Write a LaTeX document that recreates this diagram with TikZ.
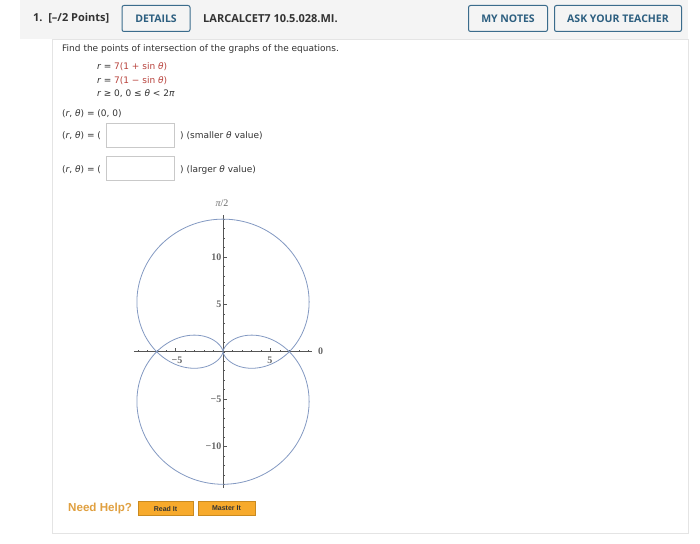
\documentclass[tikz,border=0pt]{standalone}
\usepackage{fontspec}
\setmainfont{DejaVu Sans}
\newfontfamily\hdfont{Open Sans}
\newfontfamily\plotfont{Liberation Serif}
\newfontfamily\helpfont{Liberation Sans}
\definecolor{hdrbg}{HTML}{F4F4F4}
\definecolor{panelline}{HTML}{E4E4E4}
\definecolor{btnline}{HTML}{3B6C8C}
\definecolor{btntext}{HTML}{2D5F80}
\definecolor{bodytext}{HTML}{333333}
\definecolor{redtext}{HTML}{B8423C}
\definecolor{boxline}{HTML}{C9C9C9}
\definecolor{curve}{HTML}{8399C2}
\definecolor{axis}{HTML}{555555}
\definecolor{helpor}{HTML}{E0A040}
\definecolor{btnor}{HTML}{F7AA2C}
\definecolor{btnorline}{HTML}{C98A20}
\tikzset{
  hdtext/.style={font=\hdfont\bfseries\fontsize{11}{13}\selectfont, text=bodytext, inner sep=0pt},
  hdbtn/.style={draw=btnline, line width=1pt, rounded corners=2pt, text=btntext, font=\hdfont\bfseries\fontsize{10.5}{12}\selectfont, inner sep=0pt},
  body/.style={font=\fontsize{9}{11}\selectfont, text=bodytext, inner sep=0pt, anchor=west},
  ansbox/.style={draw=boxline, line width=0.6pt},
  plotlab/.style={font=\plotfont\bfseries\fontsize{10}{12}\selectfont, text=axis!90, inner sep=0pt},
  helpbtn/.style={draw=btnorline, fill=btnor, line width=0.6pt, font=\helpfont\bfseries\fontsize{7}{8}\selectfont, text=black!80, inner sep=0pt}
}
\begin{document}
\begin{tikzpicture}[x=1pt,y=-1pt]
\useasboundingbox (0,0) rectangle (700,543);
\fill[white] (0,0) rectangle (700,543);
% header
\fill[hdrbg] (20,0) rectangle (688,39);
\draw[panelline, line width=0.8pt] (52,39) rectangle (688,533);
\node[hdtext, anchor=west] (qnum) at (33,18.5) {1.\ \ [–/2 Points]};
\node[hdbtn, minimum width=68pt, minimum height=26pt] (details) at (156,18.5) {DETAILS};
\node[hdtext, anchor=west] (code) at (203,18.5) {LARCALCET7 10.5.028.MI.};
\node[hdbtn, minimum width=79pt, minimum height=26pt] (notes) at (508,18.5) {MY NOTES};
\node[hdbtn, minimum width=127pt, minimum height=26pt] (ask) at (618,18.5) {ASK YOUR TEACHER};
% problem text
\node[body] (find) at (62,49) {Find the points of intersection of the graphs of the equations.};
\node[body] (eq1) at (97,67) {\itshape r\upshape\ = \textcolor{redtext}{7(1 + sin \itshape θ\upshape)}};
\node[body] (eq2) at (97,80.5) {\itshape r\upshape\ = \textcolor{redtext}{7(1 − sin \itshape θ\upshape)}};
\node[body] (eq3) at (97,94) {\itshape r\upshape\ ≥ 0, 0 ≤ \itshape θ\upshape\ < 2\itshape π};
\node[body] (a0) at (62,114) {(\itshape r\upshape, \itshape θ\upshape) = (0, 0)};
\node[body] (a1) at (62,136) {(\itshape r\upshape, \itshape θ\upshape) = (};
\draw[ansbox] (106,123.5) rectangle (174,147.5);
\node[body] (a1b) at (180,136) {) (smaller \itshape θ\upshape\ value)};
\node[body] (a2) at (62,170) {(\itshape r\upshape, \itshape θ\upshape) = (};
\draw[ansbox] (106,156.5) rectangle (174,180.5);
\node[body] (a2b) at (180,170) {) (larger \itshape θ\upshape\ value)};
% plot
\begin{scope}[shift={(223,351.7)}, x=9.47pt, y=9.47pt]
  \draw[axis, line width=0.6pt] (-9.4,0) -- (9.35,0);
  \draw[axis, line width=0.6pt] (0,-14.4) -- (0,14.4);
  \foreach \i in {-9,...,9} {\draw[axis, line width=0.4pt] (\i,0) -- (\i,0.22);}
  \foreach \i in {-5,5} {\draw[axis, line width=0.5pt] (\i,0) -- (\i,0.42);}
  \foreach \i in {-14,...,14} {\draw[axis, line width=0.4pt] (0,\i) -- (0.22,\i);}
  \foreach \i in {-10,-5,5,10} {\draw[axis, line width=0.5pt] (0,\i) -- (0.42,\i);}
  \draw[curve, line width=0.8pt] plot[domain=0:360, samples=240, smooth cycle] ({7*(1+sin(\x))*cos(\x)},{7*(1+sin(\x))*sin(\x)});
  \draw[curve, line width=0.8pt] plot[domain=0:360, samples=240, smooth cycle] ({7*(1-sin(\x))*cos(\x)},{7*(1-sin(\x))*sin(\x)});
  \node[plotlab] (xm5) at (-4.85,-0.95) {−5};
  \node[plotlab] (xp5) at (4.95,-0.95) {5};
  \node[plotlab] (zero) at (10.3,0) {0};
  \node[plotlab, font=\plotfont\fontsize{10}{12}\selectfont] (pihalf) at (-0.1,15.65) {\itshape π\upshape/2};
  \node[plotlab, anchor=east] (y10) at (-0.15,10) {10};
  \node[plotlab, anchor=east] (y5) at (-0.15,5) {5};
  \node[plotlab, anchor=east] (ym5) at (-0.15,-5) {−5};
  \node[plotlab, anchor=east] (ym10) at (-0.15,-10) {−10};
\end{scope}
% help
\node[font=\helpfont\bfseries\fontsize{11.6}{13}\selectfont, text=helpor, inner sep=0pt, anchor=west] (help) at (68,508) {Need Help?};
\node[helpbtn, minimum width=55pt, minimum height=14pt] (readit) at (165.5,508.5) {Read It};
\node[helpbtn, minimum width=57pt, minimum height=14pt] (masterit) at (226.5,508.5) {Master It};
\end{tikzpicture}
\end{document}
